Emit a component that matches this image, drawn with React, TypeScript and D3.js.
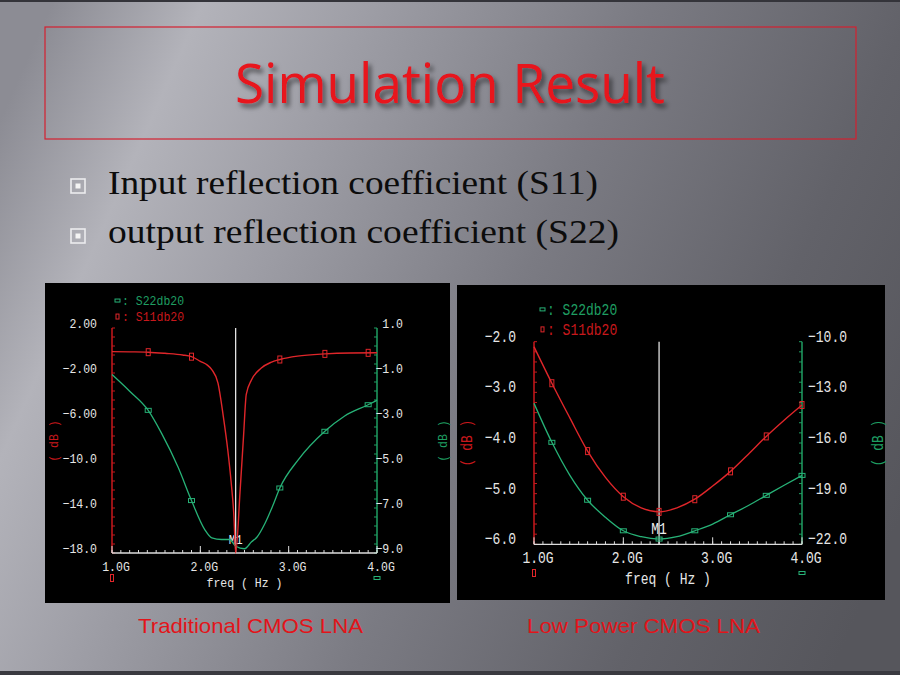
import * as d3 from "d3"

// x axis (GHz)
const freqTicks = [1, 2, 3, 4]
const freqLabels = ["1.0G", "2.0G", "3.0G", "4.0G"]
const m1Freq = 2.4

// Traditional CMOS LNA
const tradS11Freq = [1.0, 1.2, 1.41, 1.6, 1.8, 1.9, 2.0, 2.08, 2.13, 2.2, 2.26, 2.31, 2.35, 2.38, 2.4, 2.45, 2.49, 2.52, 2.58, 2.69, 2.8, 2.9, 3.1, 3.41, 3.7, 4.0]
const tradS11 = [-0.1, -0.12, -0.15, -0.25, -0.4, -0.55, -0.96, -1.3, -1.7, -2.9, -5.85, -8.8, -11.8, -14.7, -18.0, -12.5, -7.5, -3.9, -2.6, -1.56, -1.05, -0.8, -0.5, -0.3, -0.22, -0.2]
const tradS22Freq = [1.0, 1.2, 1.41, 1.56, 1.75, 1.9, 2.05, 2.13, 2.24, 2.33, 2.4, 2.5, 2.58, 2.64, 2.73, 2.82, 2.9, 3.11, 3.41, 3.63, 3.9, 4.0]
const tradS22 = [-1.07, -1.81, -2.66, -3.67, -5.2, -6.67, -7.96, -8.33, -8.4, -8.4, -8.7, -8.81, -8.5, -8.3, -7.7, -6.9, -6.11, -4.85, -3.59, -2.92, -2.41, -2.21]
const tradLeftTicks = [2, -2, -6, -10, -14, -18]
const tradLeftLabels = ["2.00", "−2.00", "−6.00", "−10.0", "−14.0", "−18.0"]
const tradRightTicks = [1, -1, -3, -5, -7, -9]
const tradRightLabels = ["1.0", "−1.0", "−3.0", "−5.0", "−7.0", "−9.0"]
const tradMarkerFreq = [1.41, 1.9, 2.9, 3.41, 3.9]

// Low Power CMOS LNA
const lpFreq = [1.0, 1.2, 1.4, 1.6, 1.8, 2.0, 2.2, 2.4, 2.6, 2.8, 3.0, 3.2, 3.4, 3.6, 3.8, 4.0]
const lpS11 = [-2.1, -2.82, -3.5, -4.16, -4.68, -5.06, -5.28, -5.36, -5.28, -5.11, -4.85, -4.56, -4.22, -3.87, -3.55, -3.25]
const lpS22 = [-13.65, -15.96, -17.9, -19.39, -20.4, -21.2, -21.55, -21.69, -21.55, -21.2, -20.8, -20.25, -19.7, -19.1, -18.5, -17.92]
const lpLeftTicks = [-2, -3, -4, -5, -6]
const lpLeftLabels = ["−2.0", "−3.0", "−4.0", "−5.0", "−6.0"]
const lpRightTicks = [-10, -13, -16, -19, -22]
const lpRightLabels = ["−10.0", "−13.0", "−16.0", "−19.0", "−22.0"]
const lpMarkerFreq = [1.2, 1.6, 2.0, 2.4, 2.8, 3.2, 3.6, 4.0]

const bullets = ["Input reflection coefficient (S11)", "output reflection coefficient (S22)"]
const captions = ["Traditional CMOS LNA", "Low Power CMOS LNA"]

const RED = "#e0262a"
const GREEN = "#27b277"
const AXIS_RED = "#c8181c"
const AXIS_GREEN = "#1f9e62"
const MONO = "'Liberation Mono', 'DejaVu Sans Mono', monospace"

const valueAt = (xs: number[], ys: number[], f: number) => {
  const i = Math.min(Math.max(d3.bisectLeft(xs, f), 1), xs.length - 1)
  const t = (f - xs[i - 1]) / (xs[i] - xs[i - 1])
  return ys[i - 1] + t * (ys[i] - ys[i - 1])
}

type PanelProps = {
  box: [number, number, number, number]
  plot: { x0: number; x1: number; y0: number; y1: number }
  fs: number
  cw: number
  leftDomain: [number, number]
  leftTicks: number[]
  leftLabels: string[]
  leftMinor: number
  leftLabelX: number
  rightDomain: [number, number]
  rightTicks: number[]
  rightLabels: string[]
  rightMinor: number
  rightLabelX: number
  s11Freq: number[]
  s11: number[]
  s22Freq: number[]
  s22: number[]
  markers: number[]
  legendX: number
  legendY: [number, number]
  dbX: [number, number]
  dbY: number
  xLabelY: number
  freqY: number
  m1Y: number
  legendMarkY: number
}

function Panel(p: PanelProps) {
  const { plot, fs, cw } = p
  const x = d3.scaleLinear().domain([1, 4]).range([plot.x0, plot.x1])
  const yl = d3.scaleLinear().domain(p.leftDomain).range([plot.y1, plot.y0])
  const yr = d3.scaleLinear().domain(p.rightDomain).range([plot.y1, plot.y0])

  const s11Line = d3
    .line<number>()
    .x((_, i) => x(p.s11Freq[i]))
    .y((d) => yl(d))
    .curve(d3.curveMonotoneX)
  const s22Line = d3
    .line<number>()
    .x((_, i) => x(p.s22Freq[i]))
    .y((d) => yr(d))
    .curve(d3.curveMonotoneX)

  const xMinor = d3.range(1, 4.0001, 0.1)
  const lMinor = d3.range(p.leftDomain[0], p.leftDomain[1] + 1e-6, p.leftMinor)
  const rMinor = d3.range(p.rightDomain[0], p.rightDomain[1] + 1e-6, p.rightMinor)
  const txt = (s: string) => ({ textLength: s.length * cw, lengthAdjust: "spacingAndGlyphs" as const })
  const capH = fs * 0.66

  return (
    <g fontFamily={MONO} fontSize={fs}>
      <rect x={p.box[0]} y={p.box[1]} width={p.box[2]} height={p.box[3]} fill="#000" />

      {/* legend */}
      <rect x={p.legendX - 7} y={p.legendY[0] - capH / 2 - 1.5} width={5} height={3} fill="none" stroke={GREEN} strokeWidth={1} />
      <text x={p.legendX} y={p.legendY[0]} fill={AXIS_GREEN} {...txt(": S22db20")}>: S22db20</text>
      <rect x={p.legendX - 6} y={p.legendY[1] - capH / 2 - 2.5} width={3} height={5} fill="none" stroke={RED} strokeWidth={1} />
      <text x={p.legendX} y={p.legendY[1]} fill={AXIS_RED} {...txt(": S11db20")}>: S11db20</text>

      {/* left axis */}
      <line x1={plot.x0} x2={plot.x0} y1={plot.y0} y2={plot.y1} stroke={AXIS_RED} strokeWidth={1.5} />
      {lMinor.map((v, i) => (
        <line key={i} x1={plot.x0} x2={plot.x0 + 3} y1={yl(v)} y2={yl(v)} stroke={AXIS_RED} strokeWidth={1} />
      ))}
      {p.leftTicks.map((v, i) => (
        <text key={i} x={p.leftLabelX} y={yl(v)} textAnchor="end" fill="#e6e6e6" {...txt(p.leftLabels[i])}>
          {p.leftLabels[i]}
        </text>
      ))}

      {/* right axis */}
      <line x1={plot.x1} x2={plot.x1} y1={plot.y0} y2={plot.y1} stroke={AXIS_GREEN} strokeWidth={1.5} />
      {rMinor.map((v, i) => (
        <line key={i} x1={plot.x1 - 3} x2={plot.x1} y1={yr(v)} y2={yr(v)} stroke={AXIS_GREEN} strokeWidth={1} />
      ))}
      {p.rightTicks.map((v, i) => (
        <text key={i} x={p.rightLabelX} y={yr(v)} textAnchor="end" fill="#e6e6e6" {...txt(p.rightLabels[i])}>
          {p.rightLabels[i]}
        </text>
      ))}

      {/* x axis */}
      <line x1={plot.x0} x2={plot.x1} y1={plot.y1} y2={plot.y1} stroke="#dcdcdc" strokeWidth={1.3} />
      {xMinor.map((v, i) => (
        <line key={i} x1={x(v)} x2={x(v)} y1={plot.y1} y2={plot.y1 - 3} stroke="#dcdcdc" strokeWidth={1} />
      ))}
      {freqTicks.map((v) => (
        <line key={v} x1={x(v)} x2={x(v)} y1={plot.y1} y2={plot.y1 - 7} stroke="#dcdcdc" strokeWidth={1} />
      ))}
      {freqTicks.map((v, i) => (
        <text key={v} x={x(v) + 4} y={p.xLabelY} textAnchor="middle" fill="#e6e6e6" {...txt(freqLabels[i])}>
          {freqLabels[i]}
        </text>
      ))}
      <text x={(plot.x0 + plot.x1) / 2} y={p.freqY} textAnchor="middle" fill="#e6e6e6" {...txt("freq ( Hz )")}>
        freq ( Hz )
      </text>

      {/* axis titles */}
      <text transform={`translate(${p.dbX[0]},${p.dbY}) rotate(-90)`} textAnchor="middle" dy="0.35em" fill={AXIS_RED} {...txt("( dB )")}>
        ( dB )
      </text>
      <text transform={`translate(${p.dbX[1]},${p.dbY}) rotate(-90)`} textAnchor="middle" dy="0.35em" fill={AXIS_GREEN} {...txt("( dB )")}>
        ( dB )
      </text>

      {/* legend marks under axis ends */}
      <rect x={plot.x0 - 1.5} y={p.legendMarkY - 3.5} width={3} height={7} fill="none" stroke={RED} strokeWidth={1} />
      <rect x={plot.x1 - 3} y={p.legendMarkY - 1.5} width={6} height={3} fill="none" stroke={GREEN} strokeWidth={1} />

      {/* marker M1 */}
      <line x1={x(m1Freq)} x2={x(m1Freq)} y1={plot.y0} y2={plot.y1} stroke="#f4f4f4" strokeWidth={1.2} />
      <text x={x(m1Freq)} y={p.m1Y} textAnchor="middle" fill="#eeeeee" {...txt("M1")}>
        M1
      </text>

      {/* curves */}
      <path d={s22Line(p.s22) || ""} fill="none" stroke={GREEN} strokeWidth={1.3} />
      <path d={s11Line(p.s11) || ""} fill="none" stroke={RED} strokeWidth={1.4} />
      {p.markers.map((f) => (
        <rect key={"g" + f} x={x(f) - 3} y={yr(valueAt(p.s22Freq, p.s22, f)) - 2} width={6} height={4} fill="none" stroke={GREEN} strokeWidth={1} />
      ))}
      {p.markers.map((f) => (
        <rect key={"r" + f} x={x(f) - 2} y={yl(valueAt(p.s11Freq, p.s11, f)) - 3.5} width={4} height={7} fill="none" stroke={RED} strokeWidth={1} />
      ))}
    </g>
  )
}

export default function App() {
  return (
    <svg width={900} height={675} style={{ position: "absolute", left: 0, top: 0 }}>
      <defs>
        <linearGradient id="bg" gradientUnits="userSpaceOnUse" x1={0} y1={120} x2={900} y2={520}>
          <stop offset="0" stopColor="#8c8c94" />
          <stop offset="0.14" stopColor="#b3b3ba" />
          <stop offset="0.3" stopColor="#9d9da5" />
          <stop offset="0.55" stopColor="#7b7b83" />
          <stop offset="0.8" stopColor="#626269" />
          <stop offset="1" stopColor="#56565c" />
        </linearGradient>
        <filter id="shadow" x="-10%" y="-30%" width="130%" height="160%">
          <feDropShadow dx={3} dy={4} stdDeviation={2.5} floodColor="#000" floodOpacity={0.55} />
        </filter>
      </defs>
      <rect width={900} height={675} fill="url(#bg)" />
      <rect width={900} height={2} fill="#34343a" />
      <rect y={671} width={900} height={4} fill="#3a3a40" />

      {/* title */}
      <rect x={45} y={27} width={811} height={112} fill="none" stroke="#d42030" strokeWidth={1.2} />
      <text
        x={450}
        y={103}
        textAnchor="middle"
        fontFamily="'Open Sans', sans-serif"
        fontSize={54}
        fill="#e8121e"
        textLength={430}
        lengthAdjust="spacingAndGlyphs"
        filter="url(#shadow)"
      >
        Simulation Result
      </text>

      {/* bullets */}
      {bullets.map((b, i) => (
        <g key={i}>
          <rect x={71} y={179 + i * 50} width={14} height={14} fill="none" stroke="#ececee" strokeWidth={1.6} />
          <rect x={75.5} y={183.5 + i * 50} width={5} height={5} fill="#f4f4f4" />
          <text
            x={108}
            y={194 + i * 49}
            fontFamily="'Liberation Serif', serif"
            fontSize={34}
            fill="#0c0c0c"
            textLength={i === 0 ? 490 : 511}
            lengthAdjust="spacingAndGlyphs"
          >
            {b}
          </text>
        </g>
      ))}

      <Panel
        box={[45, 283, 405, 320]}
        plot={{ x0: 112, x1: 377, y0: 328, y1: 553 }}
        fs={13.5}
        cw={6.9}
        leftDomain={[-18, 2]}
        leftTicks={tradLeftTicks}
        leftLabels={tradLeftLabels}
        leftMinor={0.8}
        leftLabelX={97}
        rightDomain={[-9, 1]}
        rightTicks={tradRightTicks}
        rightLabels={tradRightLabels}
        rightMinor={0.4}
        rightLabelX={403}
        s11Freq={tradS11Freq}
        s11={tradS11}
        s22Freq={tradS22Freq}
        s22={tradS22}
        markers={tradMarkerFreq}
        legendX={122}
        legendY={[305, 321]}
        dbX={[53, 442]}
        dbY={441}
        xLabelY={571}
        freqY={587}
        m1Y={544}
        legendMarkY={578}
      />
      <Panel
        box={[457, 285, 428, 315]}
        plot={{ x0: 534, x1: 802, y0: 341.7, y1: 544.3 }}
        fs={17}
        cw={7.8}
        leftDomain={[-6, -2]}
        leftTicks={lpLeftTicks}
        leftLabels={lpLeftLabels}
        leftMinor={0.2}
        leftLabelX={516}
        rightDomain={[-22, -10]}
        rightTicks={lpRightTicks}
        rightLabels={lpRightLabels}
        rightMinor={0.6}
        rightLabelX={847}
        s11Freq={lpFreq}
        s11={lpS11}
        s22Freq={lpFreq}
        s22={lpS22}
        markers={lpMarkerFreq}
        legendX={547}
        legendY={[315, 335]}
        dbX={[466, 877]}
        dbY={443}
        xLabelY={563}
        freqY={584}
        m1Y={534}
        legendMarkY={573}
      />

      {/* captions */}
      {captions.map((c, i) => (
        <text
          key={i}
          x={i === 0 ? 138 : 527}
          y={633}
          fontFamily="'Liberation Sans', Arial, sans-serif"
          fontSize={21}
          fill="#e2141a"
          textLength={i === 0 ? 225 : 233}
          lengthAdjust="spacingAndGlyphs"
        >
          {c}
        </text>
      ))}
    </svg>
  )
}
